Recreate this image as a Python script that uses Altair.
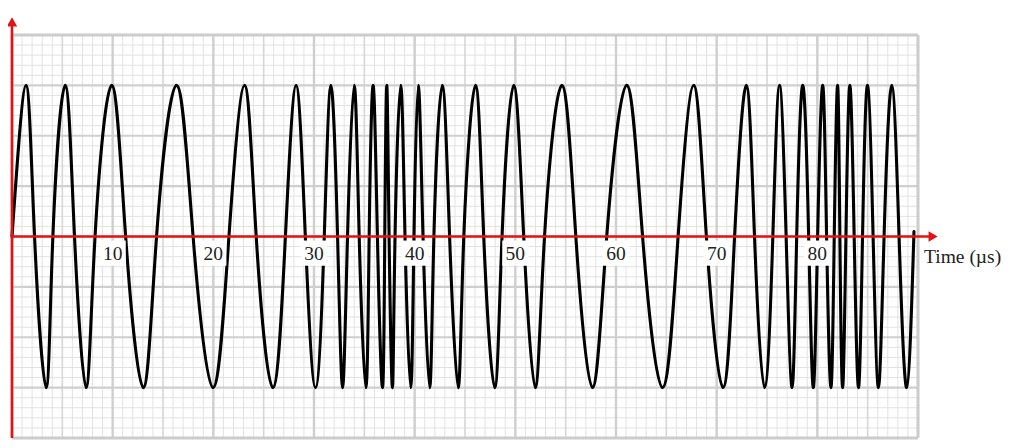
import altair as alt
import pandas as pd

# ---------------- data ----------------
AMPLITUDE = 15  # peak height in grid units

# zero crossings of the waveform (µs)
crossing_times = [0.0, 2.24, 4.06, 6.21, 8.25, 11.29, 14.36, 17.99, 21.55, 24.26,
                  27.16, 29.14, 31.02, 32.34, 33.33, 34.49, 35.48, 36.30, 37.03, 37.46,
                  38.05, 39.04, 39.93, 40.83, 41.91, 43.47, 44.88, 46.86, 48.68, 50.83,
                  52.90, 56.01, 59.08, 62.64, 66.17, 68.98, 71.78, 73.76, 75.58, 76.90,
                  77.95, 79.14, 80.03, 80.92, 81.68, 82.24, 82.84, 83.66, 84.49, 85.54,
                  86.63, 88.12]
# positive peaks (µs)
peak_times = [1.39, 5.28, 9.90, 16.34, 23.10, 28.22, 31.68, 33.99, 35.87, 37.23,
              38.61, 40.36, 42.74, 46.04, 49.84, 54.62, 61.06, 67.72, 72.94, 76.24,
              78.55, 80.53, 82.01, 83.23, 84.98, 87.39]
# negative peaks (µs)
trough_times = [3.39, 7.36, 13.04, 19.97, 25.91, 30.15, 32.84, 35.15, 36.80, 37.79,
                39.60, 41.49, 44.32, 47.95, 51.98, 57.66, 64.62, 70.63, 74.75, 77.49,
                79.60, 81.35, 82.51, 84.09, 86.07, 88.88]
# where the trace stops
end_time = 89.6
end_value = 0.5

tick_labels = [10, 20, 30, 40, 50, 60, 70, 80]
x_title = "Time (µs)"
x_domain = [0, 90]
y_domain = [-20, 20]

RED = "#e01414"

# ---------------- build tables ----------------
rows = ([{"t": t, "v": 0.0} for t in crossing_times]
        + [{"t": t, "v": AMPLITUDE} for t in peak_times]
        + [{"t": t, "v": -AMPLITUDE} for t in trough_times]
        + [{"t": end_time, "v": end_value}])
wave = pd.DataFrame(rows).sort_values("t").reset_index(drop=True)


def xs(field):
    return alt.X(f"{field}:Q", scale=alt.Scale(domain=x_domain, nice=False, zero=False), axis=None)


def ys(field):
    return alt.Y(f"{field}:Q", scale=alt.Scale(domain=y_domain, nice=False, zero=False), axis=None)


xv = list(range(x_domain[0], x_domain[1] + 1))
yv = list(range(y_domain[0], y_domain[1] + 1))

v_minor = pd.DataFrame({"g": [x for x in xv if x % 5 != 0]})
v_mid = pd.DataFrame({"g": [x for x in xv if x % 5 == 0 and x % 10 != 0]})
v_major = pd.DataFrame({"g": [x for x in xv if x % 10 == 0 and x not in x_domain]})
v_border = pd.DataFrame({"g": x_domain})
h_minor = pd.DataFrame({"g": [y for y in yv if y % 5 != 0]})
h_major = pd.DataFrame({"g": [y for y in yv if y % 5 == 0 and y not in y_domain]})
h_border = pd.DataFrame({"g": y_domain})

grid = alt.layer(
    alt.Chart(v_minor).mark_rule(color="#e2e2e2", strokeWidth=1).encode(x=xs("g")),
    alt.Chart(h_minor).mark_rule(color="#e2e2e2", strokeWidth=1).encode(y=ys("g")),
    alt.Chart(v_mid).mark_rule(color="#d6d6d6", strokeWidth=1.6).encode(x=xs("g")),
    alt.Chart(h_major).mark_rule(color="#cfcfcf", strokeWidth=2.2).encode(y=ys("g")),
    alt.Chart(v_major).mark_rule(color="#cfcfcf", strokeWidth=2.4).encode(x=xs("g")),
    alt.Chart(v_border).mark_rule(color="#cccccc", strokeWidth=3).encode(x=xs("g")),
    alt.Chart(h_border).mark_rule(color="#cccccc", strokeWidth=3).encode(y=ys("g")),
)

trace = alt.Chart(wave).mark_line(
    color="black", strokeWidth=3.1, interpolate="natural", strokeJoin="round", strokeCap="round"
).encode(x=xs("t"), y=ys("v"), order="t:Q")

lab = pd.DataFrame({"x": tick_labels, "txt": [str(v) for v in tick_labels]})
lab["x1"] = lab["x"] - 1.3
lab["x2"] = lab["x"] + 1.3
lab["y1"] = -0.4
lab["y2"] = -2.9
lab["ty"] = -1.7

boxes = alt.Chart(lab).mark_rect(color="white").encode(
    x=xs("x1"), x2="x2:Q", y=ys("y1"), y2="y2:Q"
)
labels = alt.Chart(lab).mark_text(
    font="Liberation Serif", fontSize=19.5, color="#222222", align="center", baseline="middle"
).encode(x=xs("x"), y=ys("ty"), text="txt:N")

vaxis = alt.Chart(pd.DataFrame({"x": [0], "a": [-20], "b": [21]})).mark_rule(
    color=RED, strokeWidth=2.6
).encode(x=xs("x"), y=ys("a"), y2="b:Q")
haxis = alt.Chart(pd.DataFrame({"a": [0], "b": [91.2], "y": [0]})).mark_rule(
    color=RED, strokeWidth=2.6
).encode(x=xs("a"), x2="b:Q", y=ys("y"))

up_head = alt.Chart(pd.DataFrame({"x": [0], "y": [21.3]})).mark_point(
    shape="triangle-up", filled=True, size=110, color=RED, opacity=1
).encode(x=xs("x"), y=ys("y"))
right_head = alt.Chart(pd.DataFrame({"x": [91.5], "y": [0]})).mark_point(
    shape="triangle-right", filled=True, size=110, color=RED, opacity=1
).encode(x=xs("x"), y=ys("y"))

title_df = pd.DataFrame({"x": [90.6], "y": [-2.0], "txt": [x_title]})
xtitle = alt.Chart(title_df).mark_text(
    font="Liberation Serif", fontSize=19.5, color="#222222", align="left", baseline="middle"
).encode(x=xs("x"), y=ys("y"), text="txt:N")

chart = alt.layer(
    grid, trace, boxes, labels, haxis, vaxis, up_head, right_head, xtitle
).properties(
    width=906,
    height=403,
    padding={"left": 4, "top": 27, "right": 86, "bottom": 2},
    autosize=alt.AutoSizeParams(type="none"),
    background="white",
).configure_view(strokeWidth=0)

chart.save("out.html", embed_options={"renderer": "svg", "actions": False})
